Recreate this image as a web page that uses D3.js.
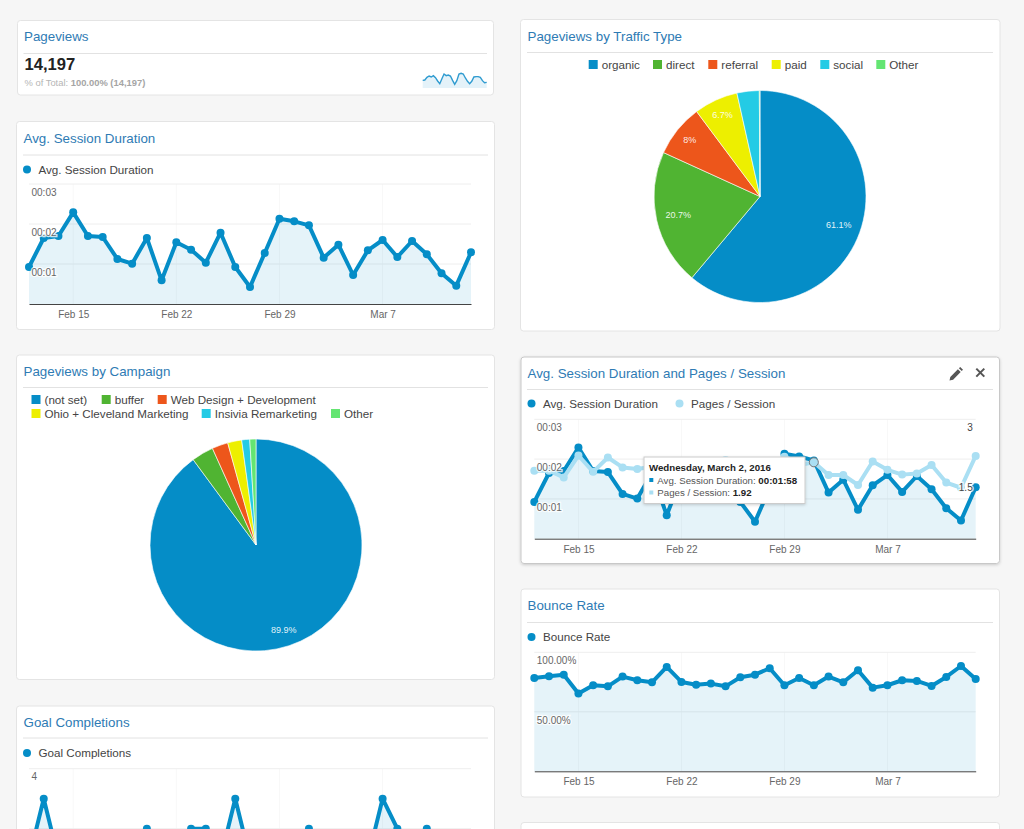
<!DOCTYPE html>
<html>
<head>
<meta charset="utf-8">
<script src="https://cdn.jsdelivr.net/npm/d3@7"></script>
<style>
  html, body { margin: 0; padding: 0; background: #f6f6f6; overflow: hidden; }
  svg { display: block; font-family: "Liberation Sans", Arial, sans-serif; }
  .title { fill: #2e7bb4; font-size: 13.35px; }
  .legend { fill: #444; font-size: 11.65px; }
  .axis text { fill: #666; font-size: 10px; font-family: "Liberation Sans", Arial, sans-serif; }
  .halo text { paint-order: stroke; stroke: #fff; stroke-width: 2.5px; stroke-opacity: .8; }
</style>
</head>
<body>
<svg id="board" width="1024" height="829"></svg>
<script>
// Data
var days = ["Feb 12", "Feb 13", "Feb 14", "Feb 15", "Feb 16", "Feb 17", "Feb 18", "Feb 19", "Feb 20", "Feb 21", "Feb 22",
  "Feb 23", "Feb 24", "Feb 25", "Feb 26", "Feb 27", "Feb 28", "Feb 29", "Mar 1", "Mar 2", "Mar 3", "Mar 4", "Mar 5",
  "Mar 6", "Mar 7", "Mar 8", "Mar 9", "Mar 10", "Mar 11", "Mar 12", "Mar 13"];
var dayTicks = ["Feb 15", "Feb 22", "Feb 29", "Mar 7"];

var pageviews = [368, 384, 512, 576, 528, 592, 496, 336, 208, 448, 672, 592, 624, 576, 368, 176, 352, 672, 704, 672,
  480, 320, 208, 320, 528, 544, 544, 512, 352, 256, 272];

// seconds
var sessionDuration = [55.5, 99, 102, 137.5, 102, 100.5, 67.5, 60.5, 99, 35.5, 92.5, 81.5, 62, 107, 55.5, 25.5, 76.5,
  128, 124, 118, 69.5, 89, 43.5, 80.5, 96, 70.5, 94.5, 74.5, 46, 27.5, 77.5];
var sessionTicks = [60, 120, 180];

var pagesPerSession = [1.71, 1.71, 1.54, 2.09, 1.68, 2.04, 1.79, 1.75, 1.81, 1.85, 1.73, 1.81, 1.68, 1.98, 1.73, 1.60,
  1.81, 2.06, 1.85, 1.92, 1.60, 1.60, 1.35, 1.94, 1.73, 1.61, 1.64, 1.85, 1.41, 1.28, 2.08];
var pagesTicks = [1.5, 3];

var bounceRate = [78.4, 79.8, 81.2, 65.3, 72.3, 71.4, 79.6, 76.5, 74.8, 87.7, 75.1, 72.8, 73.7, 71.4, 79.0, 81.2, 86.6,
  72.3, 78.4, 72.3, 79.6, 74.8, 84.9, 70.3, 72.3, 76.5, 75.9, 71.7, 79.3, 88.5, 77.6];
var bounceTicks = [50, 100];

var goalCompletions = [1, 3, 1, 0, 0, 1, 0, 0, 2, 0, 1, 2, 2, 1, 3, 1, 0, 0, 1, 2, 1, 0, 1, 1, 3, 2, 1, 2, 1, 0, 1];
var goalTicks = [4];
var goalGrid = [2, 4];

var trafficTypes = ["organic", "direct", "referral", "paid", "social", "Other"];
var trafficShares = [61.1, 20.7, 8, 6.7, 3.4, 0.1];

var campaigns = ["(not set)", "buffer", "Web Design + Development", "Ohio + Cleveland Marketing", "Insivia Remarketing", "Other"];
var campaignShares = [89.9, 3.36, 2.44, 2.14, 1.22, 0.94];

var pieColors = ["#058dc7", "#50b432", "#ed561b", "#edef00", "#24cbe5", "#64e572"];
var blue = "#058dc7";
var paleBlue = "#aadff3";

var svg = d3.select("#board");

var defs = svg.append("defs");
defs.append("filter").attr("id", "shadow").attr("x", "-5%").attr("y", "-5%").attr("width", "110%").attr("height", "115%")
  .append("feDropShadow").attr("dx", 0).attr("dy", 1).attr("stdDeviation", 1.5).attr("flood-color", "#000").attr("flood-opacity", .18);

// White panel with title and divider
function card(x0, y0, x1, y1, title, titleX, titleY, dividerY, dividerX1, hovered) {
  var r = svg.append("rect")
    .attr("x", x0).attr("y", y0)
    .attr("width", x1 - x0).attr("height", y1 - y0)
    .attr("rx", 3)
    .attr("fill", "#fff")
    .attr("stroke", hovered ? "#c8c8c8" : "#e4e4e4");
  if (hovered) r.attr("filter", "url(#shadow)");
  if (!title) return;
  svg.append("text").attr("class", "title").attr("x", titleX).attr("y", titleY).text(title);
  svg.append("line")
    .attr("x1", titleX - .5).attr("x2", dividerX1)
    .attr("y1", dividerY).attr("y2", dividerY)
    .attr("stroke", "#e2e2e2");
}

function legendDot(x, y, color, label) {
  svg.append("circle").attr("cx", x).attr("cy", y).attr("r", 4).attr("fill", color);
  svg.append("text").attr("class", "legend").attr("x", x + 11.5).attr("y", y + 4).text(label);
}

function legendSquare(x, y, color, label) {
  svg.append("rect").attr("x", x).attr("y", y).attr("width", 9).attr("height", 9).attr("fill", color);
  svg.append("text").attr("class", "legend").attr("x", x + 13).attr("y", y + 8.7).text(label);
}

// Line + area panel. opts: left, right, top, bottom, domain, ticks, format, series
function lineChart(opts) {
  var x = d3.scalePoint().domain(days).range([opts.left, opts.right]);
  var y = d3.scaleLinear().domain(opts.domain).range([opts.bottom, opts.top]);
  var g = svg.append("g");

  // vertical and horizontal grid
  g.selectAll(".vgrid").data(dayTicks).join("line")
    .attr("x1", x).attr("x2", x)
    .attr("y1", opts.top).attr("y2", opts.bottom)
    .attr("stroke", "#f8f8f8");
  g.selectAll(".hgrid").data(opts.gridValues || opts.ticks).join("line")
    .attr("x1", opts.left).attr("x2", opts.right)
    .attr("y1", y).attr("y2", y)
    .attr("stroke", "#eee");

  opts.series.forEach(function (s) {
    var sy = s.scale ? d3.scaleLinear().domain(s.scale).range([opts.bottom, opts.top]) : y;
    if (s.area) {
      g.append("path").datum(s.values)
        .attr("fill", blue).attr("fill-opacity", .105)
        .attr("d", d3.area().x(function (d, i) { return x(days[i]); }).y0(opts.bottom).y1(function (d) { return sy(d); }));
    }
    g.append("path").datum(s.values)
      .attr("fill", "none").attr("stroke", s.color).attr("stroke-width", 4).attr("stroke-linejoin", "round")
      .attr("d", d3.line().x(function (d, i) { return x(days[i]); }).y(function (d) { return sy(d); }));
    g.selectAll(null).data(s.values).join("circle")
      .attr("cx", function (d, i) { return x(days[i]); })
      .attr("cy", function (d) { return sy(d); })
      .attr("r", 4)
      .attr("fill", s.color);
  });

  // the bottom panel runs past the window, so it goes without date labels
  if (!opts.hideDates) {
    var xAxis = g.append("g").attr("class", "axis")
      .attr("transform", "translate(0," + opts.bottom + ")")
      .call(d3.axisBottom(x).tickValues(dayTicks).tickSize(0).tickPadding(7));
    xAxis.select(".domain").attr("stroke", "#444").attr("stroke-width", 1);
  }

  var yAxis = g.append("g").attr("class", "axis halo")
    .attr("transform", "translate(" + (opts.left + 2.5) + ",0)")
    .call(d3.axisRight(y).tickValues(opts.ticks).tickFormat(opts.format).tickSize(0).tickPadding(0));
  yAxis.select(".domain").remove();
  yAxis.selectAll("text").attr("dy", 11.3);

  if (opts.rightTicks) {
    var rightScale = d3.scaleLinear().domain(opts.rightDomain).range([opts.bottom, opts.top]);
    var rAxis = g.append("g").attr("class", "axis halo")
      .attr("transform", "translate(" + (opts.right - 3) + ",0)")
      .call(d3.axisLeft(rightScale).tickValues(opts.rightTicks).tickFormat(String).tickSize(0).tickPadding(0));
    rAxis.select(".domain").remove();
    rAxis.selectAll("text").attr("dy", 11.3).style("fill", "#444");
  }
  return { x: x, y: y, g: g };
}

// Pie starting at twelve o'clock, clockwise
function pieChart(cx, cy, radius, shares) {
  var g = svg.append("g").attr("transform", "translate(" + cx + "," + cy + ")");
  var arcs = d3.pie().sort(null)(shares);
  var arc = d3.arc().innerRadius(0).outerRadius(radius);
  g.selectAll("path").data(arcs).join("path")
    .attr("d", arc)
    .attr("fill", function (d, i) { return pieColors[i]; })
    .attr("stroke", "#fff").attr("stroke-width", .8).attr("stroke-opacity", .75);
  // labels only on slices big enough, small ones sit closer to the rim
  g.selectAll("text").data(arcs.filter(function (d) { return d.value >= 5; })).join("text")
    .attr("transform", function (d) {
      var k = d.value < 10 ? .85 : (d.value > 80 ? .84 : .79);
      return "translate(" + d3.arc().innerRadius(radius * k).outerRadius(radius * k).centroid(d) + ")";
    })
    .attr("text-anchor", "middle").attr("dy", ".35em")
    .attr("fill", "#fff").attr("fill-opacity", .9).attr("font-size", 9)
    .text(function (d) { return d.value + "%"; });
}

function tickMinutes(d) { return "00:0" + d / 60; }
function tickPercent(d) { return d3.format(".2f")(d) + "%"; }

// Pageviews
card(17.5, 20.5, 493.5, 95, "Pageviews", 24, 41, 53.5, 487);
svg.append("text").attr("x", 24.5).attr("y", 70).attr("font-size", 16.6).attr("font-weight", "bold").attr("fill", "#222").text("14,197");
var totalText = svg.append("text").attr("x", 24.5).attr("y", 86).attr("font-size", 9.4).attr("fill", "#b5b5b5");
totalText.append("tspan").text("% of Total: ");
totalText.append("tspan").attr("font-weight", "bold").attr("fill", "#a5a5a5").text("100.00% (14,197)");

var sparkX = d3.scalePoint().domain(days).range([422.7, 486.7]);
var sparkY = d3.scaleLinear().domain([0, 720]).range([88, 73]);
svg.append("path").datum(pageviews)
  .attr("fill", blue).attr("fill-opacity", .11)
  .attr("d", d3.area().x(function (d, i) { return sparkX(days[i]); }).y0(88).y1(function (d) { return sparkY(d); }));
svg.append("path").datum(pageviews)
  .attr("fill", "none").attr("stroke", "#2f9bd0").attr("stroke-width", 1.4)
  .attr("d", d3.line().x(function (d, i) { return sparkX(days[i]); }).y(function (d) { return sparkY(d); }));

// Avg. Session Duration
card(16.5, 121.5, 494.5, 329.5, "Avg. Session Duration", 23.5, 143, 155, 488);
legendDot(27, 169.5, blue, "Avg. Session Duration");
lineChart({
  left: 29, right: 471, top: 184, bottom: 304,
  domain: [0, 180], ticks: sessionTicks, format: tickMinutes,
  series: [{ values: sessionDuration, color: blue, area: true }]
});

// Pageviews by Traffic Type
card(520.5, 19.5, 1000, 331, "Pageviews by Traffic Type", 527.5, 41, 52.5, 993);
var trafficLegendX = [588.7, 653, 708.3, 771.7, 820.3, 876.3];
trafficTypes.forEach(function (t, i) { legendSquare(trafficLegendX[i], 60, pieColors[i], t); });
pieChart(760, 196.5, 106, trafficShares);

// Pageviews by Campaign
card(16.5, 355, 494.5, 679.5, "Pageviews by Campaign", 23.5, 376, 387.5, 488);
var campaignLegendX = [31.5, 101.7, 157.7, 31.5, 201.7, 331];
var campaignLegendY = [395, 395, 395, 409, 409, 409];
campaigns.forEach(function (t, i) { legendSquare(campaignLegendX[i], campaignLegendY[i], pieColors[i], t); });
pieChart(256, 545, 106, campaignShares);

// Avg. Session Duration and Pages / Session (hovered card)
card(521, 357, 999.5, 563.5, "Avg. Session Duration and Pages / Session", 527.5, 378, 389.5, 993, true);
legendDot(531.5, 403.5, blue, "Avg. Session Duration");
legendDot(679.5, 403.5, paleBlue, "Pages / Session");
var combo = lineChart({
  left: 534.3, right: 975.7, top: 419.3, bottom: 538.7,
  domain: [0, 180], ticks: sessionTicks, format: tickMinutes,
  rightDomain: [0, 3], rightTicks: pagesTicks,
  series: [
    { values: sessionDuration, color: blue, area: true },
    { values: pagesPerSession, color: paleBlue, scale: [0, 3] }
  ]
});

// pencil and close icons
svg.append("path")
  .attr("d", "M949.5 380.5l.8-3.6 7.6-7.6 2.8 2.8-7.6 7.6zM958.9 368.3l1.3-1.3 2.8 2.8-1.3 1.3z")
  .attr("fill", "#555");
svg.append("path")
  .attr("d", "M976.3 368.6l8 8M984.3 368.6l-8 8")
  .attr("stroke", "#555").attr("stroke-width", 2).attr("fill", "none");

// hovered point and tooltip
var hoverDay = "Mar 2";
var hoverIndex = days.indexOf(hoverDay);
var pagesY = d3.scaleLinear().domain([0, 3]).range([538.7, 419.3]);
svg.append("circle")
  .attr("cx", combo.x(hoverDay)).attr("cy", pagesY(pagesPerSession[hoverIndex]))
  .attr("r", 4.5).attr("fill", paleBlue).attr("stroke", "#777").attr("stroke-width", 1);

var tip = svg.append("g").attr("transform", "translate(644,457)");
tip.append("rect").attr("width", 161).attr("height", 46.5).attr("fill", "#fff").attr("stroke", "#ccc").attr("filter", "url(#shadow)");
tip.append("text").attr("x", 5).attr("y", 14).attr("font-size", 9.7).attr("font-weight", "bold").attr("fill", "#222")
  .text("Wednesday, March 2, 2016");
tip.append("rect").attr("x", 5.3).attr("y", 21).attr("width", 4).attr("height", 4).attr("fill", blue);
var tip1 = tip.append("text").attr("x", 13.3).attr("y", 26.5).attr("font-size", 9.7).attr("fill", "#555");
tip1.append("tspan").text("Avg. Session Duration: ");
tip1.append("tspan").attr("font-weight", "bold").attr("fill", "#222").text("00:01:58");
tip.append("rect").attr("x", 5.3).attr("y", 33.5).attr("width", 4).attr("height", 4).attr("fill", paleBlue);
var tip2 = tip.append("text").attr("x", 13.3).attr("y", 39).attr("font-size", 9.7).attr("fill", "#555");
tip2.append("tspan").text("Pages / Session: ");
tip2.append("tspan").attr("font-weight", "bold").attr("fill", "#222").text(pagesPerSession[hoverIndex].toFixed(2));

// Bounce Rate
card(521, 589, 999.5, 797, "Bounce Rate", 527.5, 610, 622.5, 993);
legendDot(531.5, 637, blue, "Bounce Rate");
lineChart({
  left: 534.3, right: 975.7, top: 652.3, bottom: 771.3,
  domain: [0, 100], ticks: bounceTicks, format: tickPercent,
  series: [{ values: bounceRate, color: blue, area: true }]
});

// Goal Completions, cut off by the window
card(16.5, 706, 494.5, 900, "Goal Completions", 23.5, 726.5, 738, 488);
legendDot(27, 753, blue, "Goal Completions");
lineChart({
  left: 29, right: 471, top: 768.7, bottom: 888.7,
  domain: [0, 4], ticks: goalTicks, gridValues: goalGrid, format: d3.format("d"), hideDates: true,
  series: [{ values: goalCompletions, color: blue, area: true }]
});

// next card below Bounce Rate, only its top edge shows
card(521, 822.5, 999.5, 900);
</script>
</body>
</html>
